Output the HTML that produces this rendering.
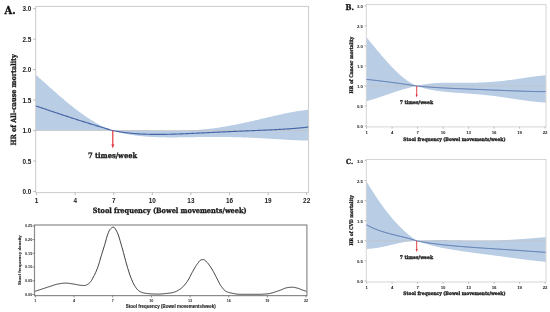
<!DOCTYPE html>
<html><head><meta charset="utf-8"><title>Stool frequency and mortality</title>
<style>html,body{margin:0;padding:0;background:#fff;}svg{display:block;}</style></head>
<body><svg width="550" height="312" viewBox="0 0 550 312">
<rect width="550" height="312" fill="#fff"/>
<polygon points="36.00,74.93 36.91,75.75 37.82,76.57 38.73,77.39 39.64,78.20 40.55,79.02 41.46,79.84 42.37,80.66 43.29,81.48 44.20,82.30 45.11,83.12 46.02,83.93 46.93,84.75 47.84,85.56 48.75,86.38 49.66,87.19 50.57,88.00 51.48,88.81 52.39,89.62 53.30,90.42 54.21,91.23 55.12,92.03 56.04,92.82 56.95,93.62 57.86,94.41 58.77,95.20 59.68,95.99 60.59,96.77 61.50,97.55 62.41,98.33 63.32,99.10 64.23,99.87 65.14,100.63 66.05,101.39 66.96,102.14 67.87,102.89 68.79,103.64 69.70,104.38 70.61,105.11 71.52,105.84 72.43,106.57 73.34,107.29 74.25,108.00 75.16,108.71 76.07,109.41 76.98,110.10 77.89,110.79 78.80,111.47 79.71,112.14 80.62,112.81 81.54,113.47 82.45,114.12 83.36,114.77 84.27,115.40 85.18,116.03 86.09,116.66 87.00,117.27 87.91,117.88 88.82,118.47 89.73,119.06 90.64,119.64 91.55,120.21 92.46,120.77 93.37,121.32 94.28,121.87 95.20,122.40 96.11,122.92 97.02,123.43 97.93,123.94 98.84,124.43 99.75,124.91 100.66,125.38 101.57,125.84 102.48,126.29 103.39,126.73 104.30,127.16 105.21,127.58 106.12,127.98 107.03,128.37 107.95,128.75 108.86,129.12 109.77,129.48 110.68,129.82 111.59,130.15 112.50,130.47 112.73,130.55 113.41,130.52 114.32,130.47 115.23,130.43 116.14,130.40 117.05,130.36 117.96,130.34 118.87,130.31 119.78,130.29 120.70,130.27 121.61,130.26 122.52,130.24 123.43,130.23 124.34,130.23 125.25,130.22 126.16,130.22 127.07,130.22 127.98,130.22 128.89,130.23 129.80,130.23 130.71,130.24 131.62,130.25 132.53,130.26 133.45,130.27 134.36,130.29 135.27,130.30 136.18,130.32 137.09,130.34 138.00,130.36 138.91,130.38 139.82,130.40 140.73,130.42 141.64,130.44 142.55,130.47 143.46,130.49 144.37,130.51 145.28,130.54 146.19,130.56 147.11,130.58 148.02,130.61 148.93,130.63 149.84,130.65 150.75,130.68 151.66,130.70 152.57,130.72 153.48,130.74 154.39,130.77 155.30,130.79 156.21,130.81 157.12,130.82 158.03,130.84 158.94,130.86 159.86,130.88 160.77,130.89 161.68,130.91 162.59,130.92 163.50,130.93 164.41,130.94 165.32,130.95 166.23,130.95 167.14,130.96 168.05,130.96 168.96,130.97 169.87,130.97 170.78,130.97 171.69,130.96 172.61,130.96 173.52,130.95 174.43,130.94 175.34,130.93 176.25,130.92 177.16,130.91 178.07,130.89 178.98,130.87 179.89,130.85 180.80,130.83 181.71,130.80 182.62,130.77 183.53,130.74 184.44,130.71 185.36,130.67 186.27,130.64 187.18,130.59 188.09,130.55 189.00,130.51 189.91,130.46 190.82,130.41 191.73,130.36 192.64,130.30 193.55,130.24 194.46,130.18 195.37,130.12 196.28,130.05 197.19,129.98 198.11,129.91 199.02,129.84 199.93,129.76 200.84,129.68 201.75,129.60 202.66,129.51 203.57,129.42 204.48,129.33 205.39,129.24 206.30,129.14 207.21,129.04 208.12,128.94 209.03,128.83 209.94,128.73 210.85,128.62 211.77,128.50 212.68,128.39 213.59,128.27 214.50,128.15 215.41,128.02 216.32,127.90 217.23,127.77 218.14,127.63 219.05,127.50 219.96,127.36 220.87,127.22 221.78,127.08 222.69,126.93 223.60,126.79 224.52,126.64 225.43,126.48 226.34,126.33 227.25,126.17 228.16,126.01 229.07,125.85 229.98,125.68 230.89,125.52 231.80,125.35 232.71,125.18 233.62,125.00 234.53,124.83 235.44,124.65 236.35,124.47 237.27,124.29 238.18,124.10 239.09,123.92 240.00,123.73 240.91,123.54 241.82,123.35 242.73,123.15 243.64,122.96 244.55,122.76 245.46,122.56 246.37,122.37 247.28,122.16 248.19,121.96 249.10,121.76 250.02,121.55 250.93,121.35 251.84,121.14 252.75,120.93 253.66,120.72 254.57,120.51 255.48,120.30 256.39,120.09 257.30,119.88 258.21,119.67 259.12,119.45 260.03,119.24 260.94,119.02 261.85,118.81 262.76,118.59 263.68,118.38 264.59,118.16 265.50,117.95 266.41,117.73 267.32,117.52 268.23,117.31 269.14,117.09 270.05,116.88 270.96,116.67 271.87,116.45 272.78,116.24 273.69,116.03 274.60,115.82 275.51,115.61 276.43,115.41 277.34,115.20 278.25,114.99 279.16,114.79 280.07,114.59 280.98,114.39 281.89,114.19 282.80,114.00 283.71,113.80 284.62,113.61 285.53,113.42 286.44,113.23 287.35,113.05 288.26,112.86 289.18,112.69 290.09,112.51 291.00,112.33 291.91,112.16 292.82,112.00 293.73,111.83 294.64,111.67 295.55,111.52 296.46,111.36 297.37,111.21 298.28,111.07 299.19,110.93 300.10,110.79 301.01,110.66 301.93,110.53 302.84,110.41 303.75,110.29 304.66,110.18 305.57,110.07 306.48,109.97 307.39,109.87 308.30,109.78 308.30,140.63 307.39,140.62 306.48,140.60 305.57,140.58 304.66,140.55 303.75,140.53 302.84,140.50 301.93,140.47 301.01,140.44 300.10,140.40 299.19,140.37 298.28,140.33 297.37,140.29 296.46,140.25 295.55,140.21 294.64,140.17 293.73,140.13 292.82,140.08 291.91,140.03 291.00,139.99 290.09,139.94 289.18,139.89 288.26,139.84 287.35,139.79 286.44,139.74 285.53,139.69 284.62,139.63 283.71,139.58 282.80,139.53 281.89,139.47 280.98,139.42 280.07,139.36 279.16,139.31 278.25,139.25 277.34,139.20 276.43,139.14 275.51,139.09 274.60,139.03 273.69,138.98 272.78,138.92 271.87,138.87 270.96,138.81 270.05,138.76 269.14,138.70 268.23,138.65 267.32,138.60 266.41,138.54 265.50,138.49 264.59,138.44 263.68,138.39 262.76,138.34 261.85,138.29 260.94,138.24 260.03,138.19 259.12,138.14 258.21,138.09 257.30,138.04 256.39,138.00 255.48,137.95 254.57,137.91 253.66,137.86 252.75,137.82 251.84,137.78 250.93,137.73 250.02,137.69 249.10,137.66 248.19,137.62 247.28,137.58 246.37,137.54 245.46,137.51 244.55,137.47 243.64,137.44 242.73,137.41 241.82,137.38 240.91,137.35 240.00,137.32 239.09,137.29 238.18,137.26 237.27,137.24 236.35,137.21 235.44,137.19 234.53,137.17 233.62,137.15 232.71,137.13 231.80,137.11 230.89,137.09 229.98,137.07 229.07,137.06 228.16,137.04 227.25,137.03 226.34,137.02 225.43,137.01 224.52,137.00 223.60,136.99 222.69,136.98 221.78,136.97 220.87,136.97 219.96,136.96 219.05,136.96 218.14,136.96 217.23,136.95 216.32,136.95 215.41,136.95 214.50,136.95 213.59,136.96 212.68,136.96 211.77,136.96 210.85,136.97 209.94,136.97 209.03,136.98 208.12,136.98 207.21,136.99 206.30,137.00 205.39,137.01 204.48,137.02 203.57,137.03 202.66,137.04 201.75,137.05 200.84,137.06 199.93,137.07 199.02,137.09 198.11,137.10 197.19,137.11 196.28,137.12 195.37,137.14 194.46,137.15 193.55,137.17 192.64,137.18 191.73,137.19 190.82,137.21 189.91,137.22 189.00,137.23 188.09,137.25 187.18,137.26 186.27,137.27 185.36,137.29 184.44,137.30 183.53,137.31 182.62,137.32 181.71,137.33 180.80,137.34 179.89,137.35 178.98,137.36 178.07,137.37 177.16,137.38 176.25,137.39 175.34,137.39 174.43,137.39 173.52,137.40 172.61,137.40 171.69,137.40 170.78,137.40 169.87,137.40 168.96,137.39 168.05,137.39 167.14,137.38 166.23,137.37 165.32,137.36 164.41,137.35 163.50,137.34 162.59,137.32 161.68,137.30 160.77,137.28 159.86,137.26 158.94,137.24 158.03,137.21 157.12,137.18 156.21,137.15 155.30,137.11 154.39,137.07 153.48,137.03 152.57,136.99 151.66,136.94 150.75,136.89 149.84,136.84 148.93,136.78 148.02,136.72 147.11,136.65 146.19,136.59 145.28,136.52 144.37,136.44 143.46,136.36 142.55,136.28 141.64,136.19 140.73,136.10 139.82,136.00 138.91,135.90 138.00,135.79 137.09,135.68 136.18,135.57 135.27,135.45 134.36,135.32 133.45,135.19 132.53,135.06 131.62,134.92 130.71,134.77 129.80,134.62 128.89,134.46 127.98,134.29 127.07,134.12 126.16,133.95 125.25,133.77 124.34,133.58 123.43,133.38 122.52,133.18 121.61,132.97 120.70,132.75 119.78,132.53 118.87,132.30 117.96,132.06 117.05,131.82 116.14,131.57 115.23,131.31 114.32,131.04 113.41,130.76 112.73,130.55 112.50,130.55 111.59,130.54 110.68,130.52 109.77,130.51 108.86,130.50 107.95,130.49 107.03,130.48 106.12,130.48 105.21,130.47 104.30,130.46 103.39,130.45 102.48,130.44 101.57,130.43 100.66,130.43 99.75,130.42 98.84,130.41 97.93,130.41 97.02,130.40 96.11,130.39 95.20,130.39 94.28,130.38 93.37,130.38 92.46,130.37 91.55,130.37 90.64,130.36 89.73,130.36 88.82,130.35 87.91,130.35 87.00,130.34 86.09,130.34 85.18,130.34 84.27,130.33 83.36,130.33 82.45,130.33 81.54,130.32 80.62,130.32 79.71,130.32 78.80,130.32 77.89,130.31 76.98,130.31 76.07,130.31 75.16,130.31 74.25,130.30 73.34,130.30 72.43,130.30 71.52,130.30 70.61,130.30 69.70,130.29 68.79,130.29 67.87,130.29 66.96,130.29 66.05,130.29 65.14,130.28 64.23,130.28 63.32,130.28 62.41,130.28 61.50,130.28 60.59,130.27 59.68,130.27 58.77,130.27 57.86,130.27 56.95,130.27 56.04,130.26 55.12,130.26 54.21,130.26 53.30,130.26 52.39,130.25 51.48,130.25 50.57,130.25 49.66,130.25 48.75,130.24 47.84,130.24 46.93,130.24 46.02,130.23 45.11,130.23 44.20,130.22 43.29,130.22 42.37,130.22 41.46,130.21 40.55,130.21 39.64,130.20 38.73,130.20 37.82,130.19 36.91,130.19 36.00,130.18" fill="#b9cde5"/>
<line x1="35.7" y1="130.55" x2="308.6" y2="130.55" stroke="#c4c4c4" stroke-width="1.0" opacity="0.8"/>
<rect x="35.7" y="6.4" width="272.90000000000003" height="186.2" fill="none" stroke="#cbcbcb" stroke-width="1.0"/>
<polyline points="36.00,105.96 36.91,106.27 37.82,106.58 38.73,106.90 39.64,107.21 40.55,107.52 41.46,107.84 42.37,108.15 43.29,108.46 44.20,108.77 45.11,109.08 46.02,109.39 46.93,109.70 47.84,110.01 48.75,110.32 49.66,110.62 50.57,110.93 51.48,111.24 52.39,111.54 53.30,111.85 54.21,112.16 55.12,112.46 56.04,112.76 56.95,113.07 57.86,113.37 58.77,113.67 59.68,113.98 60.59,114.28 61.50,114.58 62.41,114.88 63.32,115.18 64.23,115.48 65.14,115.78 66.05,116.08 66.96,116.37 67.87,116.67 68.79,116.97 69.70,117.26 70.61,117.56 71.52,117.85 72.43,118.15 73.34,118.44 74.25,118.73 75.16,119.03 76.07,119.32 76.98,119.61 77.89,119.90 78.80,120.19 79.71,120.48 80.62,120.77 81.54,121.06 82.45,121.35 83.36,121.63 84.27,121.92 85.18,122.21 86.09,122.49 87.00,122.78 87.91,123.06 88.82,123.34 89.73,123.63 90.64,123.91 91.55,124.19 92.46,124.47 93.37,124.75 94.28,125.03 95.20,125.31 96.11,125.59 97.02,125.87 97.93,126.14 98.84,126.42 99.75,126.69 100.66,126.97 101.57,127.24 102.48,127.52 103.39,127.79 104.30,128.06 105.21,128.33 106.12,128.61 107.03,128.88 107.95,129.14 108.86,129.41 109.77,129.68 110.68,129.95 111.59,130.22 112.50,130.48 112.73,130.55 113.41,130.69 114.32,130.87 115.23,131.04 116.14,131.21 117.05,131.37 117.96,131.53 118.87,131.68 119.78,131.83 120.70,131.97 121.61,132.11 122.52,132.24 123.43,132.37 124.34,132.49 125.25,132.61 126.16,132.72 127.07,132.83 127.98,132.93 128.89,133.03 129.80,133.13 130.71,133.22 131.62,133.30 132.53,133.39 133.45,133.47 134.36,133.54 135.27,133.61 136.18,133.68 137.09,133.75 138.00,133.81 138.91,133.86 139.82,133.92 140.73,133.97 141.64,134.02 142.55,134.06 143.46,134.10 144.37,134.14 145.28,134.17 146.19,134.21 147.11,134.23 148.02,134.26 148.93,134.29 149.84,134.31 150.75,134.32 151.66,134.34 152.57,134.35 153.48,134.37 154.39,134.37 155.30,134.38 156.21,134.39 157.12,134.39 158.03,134.39 158.94,134.39 159.86,134.38 160.77,134.38 161.68,134.37 162.59,134.36 163.50,134.35 164.41,134.34 165.32,134.32 166.23,134.31 167.14,134.29 168.05,134.27 168.96,134.25 169.87,134.23 170.78,134.21 171.69,134.18 172.61,134.16 173.52,134.13 174.43,134.10 175.34,134.07 176.25,134.04 177.16,134.01 178.07,133.98 178.98,133.95 179.89,133.92 180.80,133.88 181.71,133.85 182.62,133.81 183.53,133.77 184.44,133.74 185.36,133.70 186.27,133.66 187.18,133.62 188.09,133.58 189.00,133.54 189.91,133.50 190.82,133.46 191.73,133.42 192.64,133.37 193.55,133.33 194.46,133.29 195.37,133.25 196.28,133.20 197.19,133.16 198.11,133.12 199.02,133.07 199.93,133.03 200.84,132.98 201.75,132.94 202.66,132.90 203.57,132.85 204.48,132.81 205.39,132.76 206.30,132.72 207.21,132.67 208.12,132.63 209.03,132.59 209.94,132.54 210.85,132.50 211.77,132.45 212.68,132.41 213.59,132.36 214.50,132.32 215.41,132.28 216.32,132.23 217.23,132.19 218.14,132.15 219.05,132.10 219.96,132.06 220.87,132.02 221.78,131.98 222.69,131.93 223.60,131.89 224.52,131.85 225.43,131.81 226.34,131.77 227.25,131.73 228.16,131.68 229.07,131.64 229.98,131.60 230.89,131.56 231.80,131.52 232.71,131.48 233.62,131.44 234.53,131.40 235.44,131.36 236.35,131.33 237.27,131.29 238.18,131.25 239.09,131.21 240.00,131.17 240.91,131.13 241.82,131.09 242.73,131.06 243.64,131.02 244.55,130.98 245.46,130.94 246.37,130.91 247.28,130.87 248.19,130.83 249.10,130.79 250.02,130.76 250.93,130.72 251.84,130.68 252.75,130.64 253.66,130.61 254.57,130.57 255.48,130.53 256.39,130.49 257.30,130.46 258.21,130.42 259.12,130.38 260.03,130.34 260.94,130.30 261.85,130.26 262.76,130.23 263.68,130.19 264.59,130.15 265.50,130.11 266.41,130.06 267.32,130.02 268.23,129.98 269.14,129.94 270.05,129.90 270.96,129.85 271.87,129.81 272.78,129.77 273.69,129.72 274.60,129.67 275.51,129.63 276.43,129.58 277.34,129.53 278.25,129.48 279.16,129.43 280.07,129.38 280.98,129.33 281.89,129.28 282.80,129.22 283.71,129.17 284.62,129.11 285.53,129.05 286.44,128.99 287.35,128.93 288.26,128.87 289.18,128.81 290.09,128.74 291.00,128.68 291.91,128.61 292.82,128.54 293.73,128.47 294.64,128.39 295.55,128.32 296.46,128.24 297.37,128.16 298.28,128.08 299.19,128.00 300.10,127.92 301.01,127.83 301.93,127.74 302.84,127.65 303.75,127.56 304.66,127.46 305.57,127.36 306.48,127.26 307.39,127.16 308.30,127.05" fill="none" stroke="#4766a6" stroke-width="1.15"/>
<line x1="112.80" y1="130.55" x2="112.80" y2="145.10" stroke="#e0303a" stroke-width="1.15"/>
<polygon points="111.30,144.60 114.30,144.60 112.80,148.20" fill="#e0303a"/>
<line x1="33.20" y1="191.50" x2="35.7" y2="191.50" stroke="#aaa" stroke-width="0.8"/>
<text x="31.30" y="194.15" text-anchor="end" font-family="'Liberation Sans Narrow','Liberation Sans',sans-serif" font-weight="bold" font-size="6.4" fill="#1a1a1a">0.0</text>
<line x1="33.20" y1="161.03" x2="35.7" y2="161.03" stroke="#aaa" stroke-width="0.8"/>
<text x="31.30" y="163.68" text-anchor="end" font-family="'Liberation Sans Narrow','Liberation Sans',sans-serif" font-weight="bold" font-size="6.4" fill="#1a1a1a">0.5</text>
<line x1="33.20" y1="130.55" x2="35.7" y2="130.55" stroke="#aaa" stroke-width="0.8"/>
<text x="31.30" y="133.20" text-anchor="end" font-family="'Liberation Sans Narrow','Liberation Sans',sans-serif" font-weight="bold" font-size="6.4" fill="#1a1a1a">1.0</text>
<line x1="33.20" y1="100.07" x2="35.7" y2="100.07" stroke="#aaa" stroke-width="0.8"/>
<text x="31.30" y="102.73" text-anchor="end" font-family="'Liberation Sans Narrow','Liberation Sans',sans-serif" font-weight="bold" font-size="6.4" fill="#1a1a1a">1.5</text>
<line x1="33.20" y1="69.60" x2="35.7" y2="69.60" stroke="#aaa" stroke-width="0.8"/>
<text x="31.30" y="72.25" text-anchor="end" font-family="'Liberation Sans Narrow','Liberation Sans',sans-serif" font-weight="bold" font-size="6.4" fill="#1a1a1a">2.0</text>
<line x1="33.20" y1="39.12" x2="35.7" y2="39.12" stroke="#aaa" stroke-width="0.8"/>
<text x="31.30" y="41.78" text-anchor="end" font-family="'Liberation Sans Narrow','Liberation Sans',sans-serif" font-weight="bold" font-size="6.4" fill="#1a1a1a">2.5</text>
<line x1="33.20" y1="8.65" x2="35.7" y2="8.65" stroke="#aaa" stroke-width="0.8"/>
<text x="31.30" y="11.30" text-anchor="end" font-family="'Liberation Sans Narrow','Liberation Sans',sans-serif" font-weight="bold" font-size="6.4" fill="#1a1a1a">3.0</text>
<line x1="36.60" y1="192.6" x2="36.60" y2="195.10" stroke="#aaa" stroke-width="0.8"/>
<text x="36.60" y="202.60" text-anchor="middle" font-family="'Liberation Sans Narrow','Liberation Sans',sans-serif" font-weight="bold" font-size="6.4" fill="#1a1a1a">1</text>
<line x1="75.18" y1="192.6" x2="75.18" y2="195.10" stroke="#aaa" stroke-width="0.8"/>
<text x="75.18" y="202.60" text-anchor="middle" font-family="'Liberation Sans Narrow','Liberation Sans',sans-serif" font-weight="bold" font-size="6.4" fill="#1a1a1a">4</text>
<line x1="113.76" y1="192.6" x2="113.76" y2="195.10" stroke="#aaa" stroke-width="0.8"/>
<text x="113.76" y="202.60" text-anchor="middle" font-family="'Liberation Sans Narrow','Liberation Sans',sans-serif" font-weight="bold" font-size="6.4" fill="#1a1a1a">7</text>
<line x1="152.34" y1="192.6" x2="152.34" y2="195.10" stroke="#aaa" stroke-width="0.8"/>
<text x="152.34" y="202.60" text-anchor="middle" font-family="'Liberation Sans Narrow','Liberation Sans',sans-serif" font-weight="bold" font-size="6.4" fill="#1a1a1a">10</text>
<line x1="190.92" y1="192.6" x2="190.92" y2="195.10" stroke="#aaa" stroke-width="0.8"/>
<text x="190.92" y="202.60" text-anchor="middle" font-family="'Liberation Sans Narrow','Liberation Sans',sans-serif" font-weight="bold" font-size="6.4" fill="#1a1a1a">13</text>
<line x1="229.50" y1="192.6" x2="229.50" y2="195.10" stroke="#aaa" stroke-width="0.8"/>
<text x="229.50" y="202.60" text-anchor="middle" font-family="'Liberation Sans Narrow','Liberation Sans',sans-serif" font-weight="bold" font-size="6.4" fill="#1a1a1a">16</text>
<line x1="268.08" y1="192.6" x2="268.08" y2="195.10" stroke="#aaa" stroke-width="0.8"/>
<text x="268.08" y="202.60" text-anchor="middle" font-family="'Liberation Sans Narrow','Liberation Sans',sans-serif" font-weight="bold" font-size="6.4" fill="#1a1a1a">19</text>
<line x1="306.66" y1="192.6" x2="306.66" y2="195.10" stroke="#aaa" stroke-width="0.8"/>
<text x="306.66" y="202.60" text-anchor="middle" font-family="'Liberation Sans Narrow','Liberation Sans',sans-serif" font-weight="bold" font-size="6.4" fill="#1a1a1a">22</text>
<text x="169.70" y="212.60" text-anchor="middle" font-family="'DejaVu Serif Condensed','DejaVu Serif','Liberation Serif',serif" font-weight="bold" font-size="7.3" fill="#1a1a1a" stroke="#1a1a1a" stroke-width="0.3">Stool frequency (Bowel movements/week)</text>
<text transform="translate(15.50,99.90) rotate(-90)" x="0" y="0" text-anchor="middle" font-family="'DejaVu Serif Condensed','DejaVu Serif','Liberation Serif',serif" font-weight="bold" font-size="7.15" fill="#1a1a1a" stroke="#1a1a1a" stroke-width="0.3">HR of All-cause mortality</text>
<text x="112.50" y="158.20" text-anchor="middle" font-family="'DejaVu Serif Condensed','DejaVu Serif','Liberation Serif',serif" font-weight="bold" font-size="7.45" fill="#1a1a1a" stroke="#1a1a1a" stroke-width="0.3">7 times/week</text>
<text x="4.5" y="13.8" font-family="'DejaVu Serif Condensed','DejaVu Serif','Liberation Serif',serif" font-weight="bold" font-size="11" fill="#111" stroke="#111" stroke-width="0.3">A.</text>
<polygon points="366.55,37.42 367.15,38.14 367.75,38.86 368.35,39.58 368.95,40.30 369.55,41.03 370.14,41.75 370.74,42.47 371.34,43.20 371.94,43.92 372.54,44.65 373.14,45.37 373.74,46.09 374.34,46.82 374.94,47.54 375.54,48.26 376.14,48.98 376.74,49.70 377.33,50.42 377.93,51.13 378.53,51.85 379.13,52.56 379.73,53.27 380.33,53.98 380.93,54.68 381.53,55.39 382.13,56.09 382.73,56.78 383.33,57.48 383.93,58.17 384.52,58.85 385.12,59.54 385.72,60.22 386.32,60.89 386.92,61.56 387.52,62.23 388.12,62.89 388.72,63.55 389.32,64.20 389.92,64.85 390.52,65.49 391.12,66.13 391.71,66.76 392.31,67.39 392.91,68.00 393.51,68.62 394.11,69.23 394.71,69.83 395.31,70.42 395.91,71.01 396.51,71.59 397.11,72.16 397.71,72.73 398.31,73.29 398.90,73.84 399.50,74.38 400.10,74.92 400.70,75.44 401.30,75.96 401.90,76.47 402.50,76.97 403.10,77.47 403.70,77.95 404.30,78.42 404.90,78.89 405.50,79.34 406.09,79.79 406.69,80.23 407.29,80.65 407.89,81.07 408.49,81.47 409.09,81.87 409.69,82.25 410.29,82.62 410.89,82.99 411.49,83.34 412.09,83.67 412.69,84.00 413.28,84.32 413.88,84.62 414.48,84.91 415.08,85.19 415.68,85.46 416.28,85.71 416.88,85.95 416.92,85.97 417.48,85.82 418.08,85.67 418.68,85.53 419.28,85.39 419.88,85.25 420.47,85.12 421.07,85.00 421.67,84.88 422.27,84.76 422.87,84.65 423.47,84.54 424.07,84.44 424.67,84.34 425.27,84.24 425.87,84.15 426.47,84.06 427.07,83.98 427.66,83.90 428.26,83.82 428.86,83.75 429.46,83.68 430.06,83.61 430.66,83.55 431.26,83.49 431.86,83.43 432.46,83.37 433.06,83.32 433.66,83.27 434.26,83.23 434.85,83.18 435.45,83.14 436.05,83.10 436.65,83.07 437.25,83.03 437.85,83.00 438.45,82.97 439.05,82.94 439.65,82.92 440.25,82.90 440.85,82.87 441.45,82.85 442.04,82.84 442.64,82.82 443.24,82.80 443.84,82.79 444.44,82.78 445.04,82.77 445.64,82.76 446.24,82.75 446.84,82.74 447.44,82.73 448.04,82.73 448.64,82.72 449.23,82.72 449.83,82.72 450.43,82.72 451.03,82.72 451.63,82.72 452.23,82.72 452.83,82.72 453.43,82.72 454.03,82.72 454.63,82.72 455.23,82.72 455.83,82.73 456.42,82.73 457.02,82.73 457.62,82.73 458.22,82.74 458.82,82.74 459.42,82.74 460.02,82.75 460.62,82.75 461.22,82.75 461.82,82.75 462.42,82.76 463.02,82.76 463.61,82.76 464.21,82.76 464.81,82.76 465.41,82.76 466.01,82.76 466.61,82.76 467.21,82.76 467.81,82.76 468.41,82.76 469.01,82.75 469.61,82.75 470.21,82.75 470.80,82.74 471.40,82.74 472.00,82.73 472.60,82.72 473.20,82.71 473.80,82.70 474.40,82.69 475.00,82.68 475.60,82.67 476.20,82.66 476.80,82.64 477.40,82.63 477.99,82.61 478.59,82.59 479.19,82.57 479.79,82.56 480.39,82.53 480.99,82.51 481.59,82.49 482.19,82.47 482.79,82.44 483.39,82.41 483.99,82.39 484.59,82.36 485.18,82.33 485.78,82.30 486.38,82.26 486.98,82.23 487.58,82.19 488.18,82.16 488.78,82.12 489.38,82.08 489.98,82.04 490.58,82.00 491.18,81.96 491.78,81.91 492.37,81.87 492.97,81.82 493.57,81.77 494.17,81.72 494.77,81.67 495.37,81.62 495.97,81.57 496.57,81.52 497.17,81.46 497.77,81.40 498.37,81.35 498.97,81.29 499.56,81.23 500.16,81.16 500.76,81.10 501.36,81.04 501.96,80.97 502.56,80.91 503.16,80.84 503.76,80.77 504.36,80.70 504.96,80.63 505.56,80.56 506.16,80.49 506.75,80.42 507.35,80.34 507.95,80.27 508.55,80.19 509.15,80.11 509.75,80.03 510.35,79.96 510.95,79.88 511.55,79.80 512.15,79.71 512.75,79.63 513.35,79.55 513.94,79.47 514.54,79.38 515.14,79.30 515.74,79.21 516.34,79.13 516.94,79.04 517.54,78.95 518.14,78.87 518.74,78.78 519.34,78.69 519.94,78.60 520.54,78.51 521.13,78.42 521.73,78.34 522.33,78.25 522.93,78.16 523.53,78.07 524.13,77.98 524.73,77.89 525.33,77.80 525.93,77.71 526.53,77.62 527.13,77.54 527.73,77.45 528.32,77.36 528.92,77.27 529.52,77.19 530.12,77.10 530.72,77.01 531.32,76.93 531.92,76.84 532.52,76.76 533.12,76.68 533.72,76.59 534.32,76.51 534.92,76.43 535.51,76.35 536.11,76.28 536.71,76.20 537.31,76.12 537.91,76.05 538.51,75.98 539.11,75.90 539.71,75.83 540.31,75.77 540.91,75.70 541.51,75.63 542.11,75.57 542.70,75.51 543.30,75.45 543.90,75.39 544.50,75.34 545.10,75.28 545.70,75.23 545.70,102.48 545.10,102.47 544.50,102.44 543.90,102.42 543.30,102.39 542.70,102.36 542.11,102.33 541.51,102.29 540.91,102.25 540.31,102.21 539.71,102.17 539.11,102.12 538.51,102.07 537.91,102.02 537.31,101.97 536.71,101.91 536.11,101.85 535.51,101.79 534.92,101.73 534.32,101.67 533.72,101.60 533.12,101.54 532.52,101.47 531.92,101.40 531.32,101.33 530.72,101.25 530.12,101.18 529.52,101.10 528.92,101.02 528.32,100.95 527.73,100.87 527.13,100.79 526.53,100.70 525.93,100.62 525.33,100.54 524.73,100.45 524.13,100.37 523.53,100.28 522.93,100.19 522.33,100.11 521.73,100.02 521.13,99.93 520.54,99.84 519.94,99.75 519.34,99.66 518.74,99.57 518.14,99.48 517.54,99.39 516.94,99.30 516.34,99.21 515.74,99.12 515.14,99.03 514.54,98.93 513.94,98.84 513.35,98.75 512.75,98.66 512.15,98.57 511.55,98.48 510.95,98.39 510.35,98.30 509.75,98.21 509.15,98.12 508.55,98.03 507.95,97.94 507.35,97.85 506.75,97.76 506.16,97.67 505.56,97.58 504.96,97.50 504.36,97.41 503.76,97.32 503.16,97.24 502.56,97.15 501.96,97.07 501.36,96.99 500.76,96.90 500.16,96.82 499.56,96.74 498.97,96.66 498.37,96.58 497.77,96.50 497.17,96.42 496.57,96.34 495.97,96.26 495.37,96.19 494.77,96.11 494.17,96.04 493.57,95.96 492.97,95.89 492.37,95.82 491.78,95.75 491.18,95.68 490.58,95.61 489.98,95.54 489.38,95.47 488.78,95.40 488.18,95.34 487.58,95.27 486.98,95.21 486.38,95.14 485.78,95.08 485.18,95.02 484.59,94.96 483.99,94.90 483.39,94.84 482.79,94.78 482.19,94.72 481.59,94.66 480.99,94.61 480.39,94.55 479.79,94.50 479.19,94.44 478.59,94.39 477.99,94.34 477.40,94.29 476.80,94.24 476.20,94.19 475.60,94.14 475.00,94.09 474.40,94.04 473.80,93.99 473.20,93.95 472.60,93.90 472.00,93.85 471.40,93.81 470.80,93.76 470.21,93.72 469.61,93.67 469.01,93.63 468.41,93.59 467.81,93.55 467.21,93.50 466.61,93.46 466.01,93.42 465.41,93.38 464.81,93.34 464.21,93.30 463.61,93.25 463.02,93.21 462.42,93.17 461.82,93.13 461.22,93.09 460.62,93.05 460.02,93.01 459.42,92.97 458.82,92.93 458.22,92.88 457.62,92.84 457.02,92.80 456.42,92.76 455.83,92.71 455.23,92.67 454.63,92.63 454.03,92.58 453.43,92.54 452.83,92.49 452.23,92.44 451.63,92.40 451.03,92.35 450.43,92.30 449.83,92.25 449.23,92.20 448.64,92.15 448.04,92.09 447.44,92.04 446.84,91.98 446.24,91.92 445.64,91.87 445.04,91.81 444.44,91.74 443.84,91.68 443.24,91.62 442.64,91.55 442.04,91.48 441.45,91.41 440.85,91.34 440.25,91.27 439.65,91.19 439.05,91.11 438.45,91.03 437.85,90.95 437.25,90.86 436.65,90.77 436.05,90.68 435.45,90.59 434.85,90.50 434.26,90.40 433.66,90.30 433.06,90.19 432.46,90.09 431.86,89.98 431.26,89.86 430.66,89.75 430.06,89.63 429.46,89.50 428.86,89.38 428.26,89.25 427.66,89.11 427.07,88.97 426.47,88.83 425.87,88.69 425.27,88.54 424.67,88.38 424.07,88.22 423.47,88.06 422.87,87.89 422.27,87.72 421.67,87.55 421.07,87.37 420.47,87.18 419.88,86.99 419.28,86.79 418.68,86.59 418.08,86.38 417.48,86.17 416.92,85.97 416.88,85.98 416.28,86.09 415.68,86.21 415.08,86.33 414.48,86.46 413.88,86.59 413.28,86.72 412.69,86.86 412.09,87.00 411.49,87.14 410.89,87.28 410.29,87.43 409.69,87.58 409.09,87.74 408.49,87.89 407.89,88.05 407.29,88.21 406.69,88.38 406.09,88.54 405.50,88.71 404.90,88.88 404.30,89.05 403.70,89.23 403.10,89.41 402.50,89.58 401.90,89.77 401.30,89.95 400.70,90.13 400.10,90.32 399.50,90.51 398.90,90.70 398.31,90.89 397.71,91.08 397.11,91.27 396.51,91.47 395.91,91.66 395.31,91.86 394.71,92.06 394.11,92.26 393.51,92.46 392.91,92.66 392.31,92.86 391.71,93.06 391.12,93.26 390.52,93.47 389.92,93.67 389.32,93.88 388.72,94.08 388.12,94.29 387.52,94.49 386.92,94.70 386.32,94.90 385.72,95.11 385.12,95.31 384.52,95.51 383.93,95.72 383.33,95.92 382.73,96.13 382.13,96.33 381.53,96.53 380.93,96.74 380.33,96.94 379.73,97.14 379.13,97.34 378.53,97.54 377.93,97.73 377.33,97.93 376.74,98.13 376.14,98.32 375.54,98.51 374.94,98.71 374.34,98.90 373.74,99.08 373.14,99.27 372.54,99.46 371.94,99.64 371.34,99.82 370.74,100.00 370.14,100.18 369.55,100.36 368.95,100.53 368.35,100.71 367.75,100.88 367.15,101.04 366.55,101.21" fill="#b9cde5"/>
<line x1="366.25" y1="85.97" x2="546.0" y2="85.97" stroke="#c4c4c4" stroke-width="0.8" opacity="0.8"/>
<rect x="366.25" y="4.7" width="179.75" height="122.2" fill="none" stroke="#cbcbcb" stroke-width="0.8"/>
<polyline points="366.55,79.36 367.15,79.43 367.75,79.49 368.35,79.56 368.95,79.63 369.55,79.70 370.14,79.77 370.74,79.83 371.34,79.90 371.94,79.97 372.54,80.04 373.14,80.11 373.74,80.18 374.34,80.25 374.94,80.32 375.54,80.39 376.14,80.46 376.74,80.54 377.33,80.61 377.93,80.68 378.53,80.75 379.13,80.82 379.73,80.90 380.33,80.97 380.93,81.04 381.53,81.12 382.13,81.19 382.73,81.26 383.33,81.34 383.93,81.41 384.52,81.49 385.12,81.56 385.72,81.64 386.32,81.72 386.92,81.79 387.52,81.87 388.12,81.95 388.72,82.02 389.32,82.10 389.92,82.18 390.52,82.26 391.12,82.33 391.71,82.41 392.31,82.49 392.91,82.57 393.51,82.65 394.11,82.73 394.71,82.81 395.31,82.89 395.91,82.97 396.51,83.05 397.11,83.13 397.71,83.21 398.31,83.29 398.90,83.38 399.50,83.46 400.10,83.54 400.70,83.62 401.30,83.71 401.90,83.79 402.50,83.87 403.10,83.96 403.70,84.04 404.30,84.13 404.90,84.21 405.50,84.30 406.09,84.38 406.69,84.47 407.29,84.55 407.89,84.64 408.49,84.72 409.09,84.81 409.69,84.90 410.29,84.99 410.89,85.07 411.49,85.16 412.09,85.25 412.69,85.34 413.28,85.43 413.88,85.51 414.48,85.60 415.08,85.69 415.68,85.78 416.28,85.87 416.88,85.96 416.92,85.97 417.48,86.03 418.08,86.09 418.68,86.15 419.28,86.21 419.88,86.27 420.47,86.32 421.07,86.38 421.67,86.44 422.27,86.49 422.87,86.54 423.47,86.60 424.07,86.65 424.67,86.70 425.27,86.75 425.87,86.80 426.47,86.85 427.07,86.89 427.66,86.94 428.26,86.99 428.86,87.03 429.46,87.08 430.06,87.12 430.66,87.16 431.26,87.21 431.86,87.25 432.46,87.29 433.06,87.33 433.66,87.37 434.26,87.41 434.85,87.45 435.45,87.49 436.05,87.53 436.65,87.56 437.25,87.60 437.85,87.64 438.45,87.67 439.05,87.71 439.65,87.74 440.25,87.78 440.85,87.81 441.45,87.84 442.04,87.88 442.64,87.91 443.24,87.94 443.84,87.97 444.44,88.00 445.04,88.03 445.64,88.06 446.24,88.09 446.84,88.12 447.44,88.15 448.04,88.18 448.64,88.21 449.23,88.24 449.83,88.27 450.43,88.30 451.03,88.33 451.63,88.35 452.23,88.38 452.83,88.41 453.43,88.43 454.03,88.46 454.63,88.49 455.23,88.51 455.83,88.54 456.42,88.57 457.02,88.59 457.62,88.62 458.22,88.64 458.82,88.67 459.42,88.69 460.02,88.72 460.62,88.74 461.22,88.77 461.82,88.79 462.42,88.82 463.02,88.84 463.61,88.87 464.21,88.89 464.81,88.91 465.41,88.94 466.01,88.96 466.61,88.99 467.21,89.01 467.81,89.03 468.41,89.06 469.01,89.08 469.61,89.11 470.21,89.13 470.80,89.15 471.40,89.18 472.00,89.20 472.60,89.22 473.20,89.25 473.80,89.27 474.40,89.29 475.00,89.32 475.60,89.34 476.20,89.37 476.80,89.39 477.40,89.41 477.99,89.44 478.59,89.46 479.19,89.48 479.79,89.51 480.39,89.53 480.99,89.55 481.59,89.58 482.19,89.60 482.79,89.63 483.39,89.65 483.99,89.67 484.59,89.70 485.18,89.72 485.78,89.75 486.38,89.77 486.98,89.79 487.58,89.82 488.18,89.84 488.78,89.87 489.38,89.89 489.98,89.91 490.58,89.94 491.18,89.96 491.78,89.99 492.37,90.01 492.97,90.03 493.57,90.06 494.17,90.08 494.77,90.11 495.37,90.13 495.97,90.16 496.57,90.18 497.17,90.21 497.77,90.23 498.37,90.25 498.97,90.28 499.56,90.30 500.16,90.33 500.76,90.35 501.36,90.38 501.96,90.40 502.56,90.42 503.16,90.45 503.76,90.47 504.36,90.50 504.96,90.52 505.56,90.54 506.16,90.57 506.75,90.59 507.35,90.62 507.95,90.64 508.55,90.66 509.15,90.69 509.75,90.71 510.35,90.73 510.95,90.76 511.55,90.78 512.15,90.80 512.75,90.83 513.35,90.85 513.94,90.87 514.54,90.89 515.14,90.92 515.74,90.94 516.34,90.96 516.94,90.98 517.54,91.00 518.14,91.03 518.74,91.05 519.34,91.07 519.94,91.09 520.54,91.11 521.13,91.13 521.73,91.15 522.33,91.17 522.93,91.19 523.53,91.21 524.13,91.23 524.73,91.25 525.33,91.26 525.93,91.28 526.53,91.30 527.13,91.32 527.73,91.33 528.32,91.35 528.92,91.37 529.52,91.38 530.12,91.40 530.72,91.41 531.32,91.43 531.92,91.44 532.52,91.46 533.12,91.47 533.72,91.48 534.32,91.49 534.92,91.51 535.51,91.52 536.11,91.53 536.71,91.54 537.31,91.55 537.91,91.56 538.51,91.57 539.11,91.57 539.71,91.58 540.31,91.59 540.91,91.59 541.51,91.60 542.11,91.60 542.70,91.61 543.30,91.61 543.90,91.61 544.50,91.61 545.10,91.62 545.70,91.62" fill="none" stroke="#4766a6" stroke-width="0.9"/>
<line x1="416.70" y1="85.97" x2="416.70" y2="95.10" stroke="#e0303a" stroke-width="0.9"/>
<polygon points="415.60,94.60 417.80,94.60 416.70,97.60" fill="#e0303a"/>
<line x1="364.55" y1="126.00" x2="366.25" y2="126.00" stroke="#aaa" stroke-width="0.8"/>
<text x="363.00" y="127.92" text-anchor="end" font-family="'Liberation Sans',sans-serif" font-weight="bold" font-size="4.35" fill="#1a1a1a">0.0</text>
<line x1="364.55" y1="105.98" x2="366.25" y2="105.98" stroke="#aaa" stroke-width="0.8"/>
<text x="363.00" y="107.90" text-anchor="end" font-family="'Liberation Sans',sans-serif" font-weight="bold" font-size="4.35" fill="#1a1a1a">0.5</text>
<line x1="364.55" y1="85.97" x2="366.25" y2="85.97" stroke="#aaa" stroke-width="0.8"/>
<text x="363.00" y="87.89" text-anchor="end" font-family="'Liberation Sans',sans-serif" font-weight="bold" font-size="4.35" fill="#1a1a1a">1.0</text>
<line x1="364.55" y1="65.95" x2="366.25" y2="65.95" stroke="#aaa" stroke-width="0.8"/>
<text x="363.00" y="67.87" text-anchor="end" font-family="'Liberation Sans',sans-serif" font-weight="bold" font-size="4.35" fill="#1a1a1a">1.5</text>
<line x1="364.55" y1="45.94" x2="366.25" y2="45.94" stroke="#aaa" stroke-width="0.8"/>
<text x="363.00" y="47.86" text-anchor="end" font-family="'Liberation Sans',sans-serif" font-weight="bold" font-size="4.35" fill="#1a1a1a">2.0</text>
<line x1="364.55" y1="25.92" x2="366.25" y2="25.92" stroke="#aaa" stroke-width="0.8"/>
<text x="363.00" y="27.84" text-anchor="end" font-family="'Liberation Sans',sans-serif" font-weight="bold" font-size="4.35" fill="#1a1a1a">2.5</text>
<line x1="364.55" y1="5.91" x2="366.25" y2="5.91" stroke="#aaa" stroke-width="0.8"/>
<text x="363.00" y="7.83" text-anchor="end" font-family="'Liberation Sans',sans-serif" font-weight="bold" font-size="4.35" fill="#1a1a1a">3.0</text>
<line x1="366.60" y1="126.9" x2="366.60" y2="128.60" stroke="#aaa" stroke-width="0.8"/>
<text x="366.60" y="133.50" text-anchor="middle" font-family="'Liberation Sans',sans-serif" font-weight="bold" font-size="4.35" fill="#1a1a1a">1</text>
<line x1="392.10" y1="126.9" x2="392.10" y2="128.60" stroke="#aaa" stroke-width="0.8"/>
<text x="392.10" y="133.50" text-anchor="middle" font-family="'Liberation Sans',sans-serif" font-weight="bold" font-size="4.35" fill="#1a1a1a">4</text>
<line x1="417.60" y1="126.9" x2="417.60" y2="128.60" stroke="#aaa" stroke-width="0.8"/>
<text x="417.60" y="133.50" text-anchor="middle" font-family="'Liberation Sans',sans-serif" font-weight="bold" font-size="4.35" fill="#1a1a1a">7</text>
<line x1="443.10" y1="126.9" x2="443.10" y2="128.60" stroke="#aaa" stroke-width="0.8"/>
<text x="443.10" y="133.50" text-anchor="middle" font-family="'Liberation Sans',sans-serif" font-weight="bold" font-size="4.35" fill="#1a1a1a">10</text>
<line x1="468.60" y1="126.9" x2="468.60" y2="128.60" stroke="#aaa" stroke-width="0.8"/>
<text x="468.60" y="133.50" text-anchor="middle" font-family="'Liberation Sans',sans-serif" font-weight="bold" font-size="4.35" fill="#1a1a1a">13</text>
<line x1="494.10" y1="126.9" x2="494.10" y2="128.60" stroke="#aaa" stroke-width="0.8"/>
<text x="494.10" y="133.50" text-anchor="middle" font-family="'Liberation Sans',sans-serif" font-weight="bold" font-size="4.35" fill="#1a1a1a">16</text>
<line x1="519.60" y1="126.9" x2="519.60" y2="128.60" stroke="#aaa" stroke-width="0.8"/>
<text x="519.60" y="133.50" text-anchor="middle" font-family="'Liberation Sans',sans-serif" font-weight="bold" font-size="4.35" fill="#1a1a1a">19</text>
<line x1="545.10" y1="126.9" x2="545.10" y2="128.60" stroke="#aaa" stroke-width="0.8"/>
<text x="545.10" y="133.50" text-anchor="middle" font-family="'Liberation Sans',sans-serif" font-weight="bold" font-size="4.35" fill="#1a1a1a">22</text>
<text x="454.40" y="140.50" text-anchor="middle" font-family="'DejaVu Serif Condensed','DejaVu Serif','Liberation Serif',serif" font-weight="bold" font-size="4.85" fill="#1a1a1a" stroke="#1a1a1a" stroke-width="0.3">Stool frequency (Bowel movements/week)</text>
<text transform="translate(353.20,65.00) rotate(-90)" x="0" y="0" text-anchor="middle" font-family="'DejaVu Serif Condensed','DejaVu Serif','Liberation Serif',serif" font-weight="bold" font-size="4.85" fill="#1a1a1a" stroke="#1a1a1a" stroke-width="0.3">HR of Cancer mortality</text>
<text x="416.40" y="103.80" text-anchor="middle" font-family="'DejaVu Serif Condensed','DejaVu Serif','Liberation Serif',serif" font-weight="bold" font-size="5.05" fill="#1a1a1a" stroke="#1a1a1a" stroke-width="0.3">7 times/week</text>
<text x="345.4" y="9.8" font-family="'DejaVu Serif Condensed','DejaVu Serif','Liberation Serif',serif" font-weight="bold" font-size="7.9" fill="#111" stroke="#111" stroke-width="0.3">B.</text>
<polygon points="366.55,181.37 367.15,182.39 367.75,183.41 368.35,184.41 368.95,185.41 369.55,186.40 370.14,187.38 370.74,188.35 371.34,189.32 371.94,190.28 372.54,191.23 373.14,192.18 373.74,193.12 374.34,194.05 374.94,194.97 375.54,195.88 376.14,196.79 376.74,197.69 377.33,198.58 377.93,199.47 378.53,200.35 379.13,201.22 379.73,202.08 380.33,202.93 380.93,203.78 381.53,204.62 382.13,205.45 382.73,206.28 383.33,207.10 383.93,207.91 384.52,208.71 385.12,209.50 385.72,210.29 386.32,211.07 386.92,211.84 387.52,212.61 388.12,213.36 388.72,214.11 389.32,214.86 389.92,215.59 390.52,216.32 391.12,217.04 391.71,217.75 392.31,218.45 392.91,219.15 393.51,219.84 394.11,220.52 394.71,221.20 395.31,221.86 395.91,222.52 396.51,223.18 397.11,223.82 397.71,224.46 398.31,225.09 398.90,225.71 399.50,226.32 400.10,226.93 400.70,227.53 401.30,228.12 401.90,228.70 402.50,229.28 403.10,229.85 403.70,230.41 404.30,230.96 404.90,231.51 405.50,232.05 406.09,232.58 406.69,233.10 407.29,233.62 407.89,234.13 408.49,234.63 409.09,235.12 409.69,235.61 410.29,236.09 410.89,236.56 411.49,237.02 412.09,237.47 412.69,237.92 413.28,238.36 413.88,238.79 414.48,239.22 415.08,239.64 415.68,240.05 416.28,240.45 416.88,240.84 416.92,240.87 417.48,240.82 418.08,240.78 418.68,240.73 419.28,240.69 419.88,240.64 420.47,240.60 421.07,240.56 421.67,240.53 422.27,240.49 422.87,240.46 423.47,240.43 424.07,240.40 424.67,240.37 425.27,240.34 425.87,240.32 426.47,240.29 427.07,240.27 427.66,240.25 428.26,240.23 428.86,240.21 429.46,240.19 430.06,240.18 430.66,240.16 431.26,240.15 431.86,240.13 432.46,240.12 433.06,240.11 433.66,240.10 434.26,240.10 434.85,240.09 435.45,240.08 436.05,240.08 436.65,240.07 437.25,240.07 437.85,240.07 438.45,240.06 439.05,240.06 439.65,240.06 440.25,240.06 440.85,240.06 441.45,240.07 442.04,240.07 442.64,240.07 443.24,240.08 443.84,240.08 444.44,240.08 445.04,240.09 445.64,240.10 446.24,240.10 446.84,240.11 447.44,240.12 448.04,240.12 448.64,240.13 449.23,240.14 449.83,240.15 450.43,240.16 451.03,240.17 451.63,240.18 452.23,240.19 452.83,240.20 453.43,240.21 454.03,240.22 454.63,240.23 455.23,240.24 455.83,240.25 456.42,240.26 457.02,240.27 457.62,240.28 458.22,240.29 458.82,240.30 459.42,240.31 460.02,240.32 460.62,240.33 461.22,240.34 461.82,240.35 462.42,240.36 463.02,240.37 463.61,240.38 464.21,240.39 464.81,240.40 465.41,240.41 466.01,240.42 466.61,240.43 467.21,240.44 467.81,240.45 468.41,240.46 469.01,240.46 469.61,240.47 470.21,240.48 470.80,240.49 471.40,240.49 472.00,240.50 472.60,240.51 473.20,240.51 473.80,240.52 474.40,240.52 475.00,240.52 475.60,240.53 476.20,240.53 476.80,240.53 477.40,240.54 477.99,240.54 478.59,240.54 479.19,240.54 479.79,240.54 480.39,240.54 480.99,240.54 481.59,240.54 482.19,240.54 482.79,240.54 483.39,240.53 483.99,240.53 484.59,240.53 485.18,240.52 485.78,240.52 486.38,240.51 486.98,240.50 487.58,240.50 488.18,240.49 488.78,240.48 489.38,240.47 489.98,240.46 490.58,240.45 491.18,240.44 491.78,240.43 492.37,240.42 492.97,240.41 493.57,240.39 494.17,240.38 494.77,240.37 495.37,240.35 495.97,240.34 496.57,240.32 497.17,240.30 497.77,240.28 498.37,240.27 498.97,240.25 499.56,240.23 500.16,240.21 500.76,240.18 501.36,240.16 501.96,240.14 502.56,240.12 503.16,240.09 503.76,240.07 504.36,240.04 504.96,240.02 505.56,239.99 506.16,239.96 506.75,239.94 507.35,239.91 507.95,239.88 508.55,239.85 509.15,239.82 509.75,239.79 510.35,239.76 510.95,239.73 511.55,239.69 512.15,239.66 512.75,239.63 513.35,239.59 513.94,239.56 514.54,239.52 515.14,239.49 515.74,239.45 516.34,239.41 516.94,239.37 517.54,239.34 518.14,239.30 518.74,239.26 519.34,239.22 519.94,239.18 520.54,239.14 521.13,239.09 521.73,239.05 522.33,239.01 522.93,238.97 523.53,238.92 524.13,238.88 524.73,238.84 525.33,238.79 525.93,238.75 526.53,238.70 527.13,238.66 527.73,238.61 528.32,238.57 528.92,238.52 529.52,238.47 530.12,238.43 530.72,238.38 531.32,238.33 531.92,238.28 532.52,238.24 533.12,238.19 533.72,238.14 534.32,238.09 534.92,238.04 535.51,237.99 536.11,237.94 536.71,237.89 537.31,237.85 537.91,237.80 538.51,237.75 539.11,237.70 539.71,237.65 540.31,237.60 540.91,237.55 541.51,237.50 542.11,237.45 542.70,237.40 543.30,237.35 543.90,237.30 544.50,237.25 545.10,237.21 545.70,237.16 545.70,261.82 545.10,261.77 544.50,261.72 543.90,261.66 543.30,261.61 542.70,261.56 542.11,261.50 541.51,261.44 540.91,261.39 540.31,261.33 539.71,261.27 539.11,261.21 538.51,261.14 537.91,261.08 537.31,261.02 536.71,260.95 536.11,260.89 535.51,260.82 534.92,260.75 534.32,260.69 533.72,260.62 533.12,260.55 532.52,260.48 531.92,260.41 531.32,260.34 530.72,260.27 530.12,260.20 529.52,260.12 528.92,260.05 528.32,259.98 527.73,259.90 527.13,259.83 526.53,259.76 525.93,259.68 525.33,259.60 524.73,259.53 524.13,259.45 523.53,259.38 522.93,259.30 522.33,259.22 521.73,259.14 521.13,259.07 520.54,258.99 519.94,258.91 519.34,258.83 518.74,258.75 518.14,258.67 517.54,258.59 516.94,258.52 516.34,258.44 515.74,258.36 515.14,258.28 514.54,258.20 513.94,258.12 513.35,258.04 512.75,257.96 512.15,257.88 511.55,257.80 510.95,257.72 510.35,257.64 509.75,257.56 509.15,257.48 508.55,257.40 507.95,257.32 507.35,257.24 506.75,257.16 506.16,257.07 505.56,256.99 504.96,256.91 504.36,256.83 503.76,256.75 503.16,256.67 502.56,256.59 501.96,256.51 501.36,256.43 500.76,256.35 500.16,256.27 499.56,256.19 498.97,256.12 498.37,256.04 497.77,255.96 497.17,255.88 496.57,255.80 495.97,255.72 495.37,255.64 494.77,255.56 494.17,255.48 493.57,255.40 492.97,255.32 492.37,255.24 491.78,255.17 491.18,255.09 490.58,255.01 489.98,254.93 489.38,254.85 488.78,254.77 488.18,254.69 487.58,254.62 486.98,254.54 486.38,254.46 485.78,254.38 485.18,254.30 484.59,254.22 483.99,254.15 483.39,254.07 482.79,253.99 482.19,253.91 481.59,253.83 480.99,253.75 480.39,253.68 479.79,253.60 479.19,253.52 478.59,253.44 477.99,253.36 477.40,253.28 476.80,253.20 476.20,253.12 475.60,253.04 475.00,252.97 474.40,252.89 473.80,252.81 473.20,252.73 472.60,252.65 472.00,252.56 471.40,252.48 470.80,252.40 470.21,252.32 469.61,252.24 469.01,252.16 468.41,252.08 467.81,251.99 467.21,251.91 466.61,251.83 466.01,251.74 465.41,251.66 464.81,251.57 464.21,251.49 463.61,251.40 463.02,251.32 462.42,251.23 461.82,251.14 461.22,251.06 460.62,250.97 460.02,250.88 459.42,250.79 458.82,250.70 458.22,250.61 457.62,250.52 457.02,250.42 456.42,250.33 455.83,250.24 455.23,250.14 454.63,250.05 454.03,249.95 453.43,249.85 452.83,249.75 452.23,249.65 451.63,249.55 451.03,249.45 450.43,249.35 449.83,249.25 449.23,249.14 448.64,249.04 448.04,248.93 447.44,248.82 446.84,248.71 446.24,248.60 445.64,248.49 445.04,248.38 444.44,248.26 443.84,248.14 443.24,248.03 442.64,247.91 442.04,247.79 441.45,247.67 440.85,247.54 440.25,247.42 439.65,247.29 439.05,247.16 438.45,247.03 437.85,246.90 437.25,246.77 436.65,246.63 436.05,246.49 435.45,246.35 434.85,246.21 434.26,246.07 433.66,245.92 433.06,245.78 432.46,245.63 431.86,245.48 431.26,245.32 430.66,245.17 430.06,245.01 429.46,244.85 428.86,244.68 428.26,244.52 427.66,244.35 427.07,244.18 426.47,244.01 425.87,243.83 425.27,243.65 424.67,243.47 424.07,243.29 423.47,243.10 422.87,242.91 422.27,242.72 421.67,242.53 421.07,242.33 420.47,242.13 419.88,241.92 419.28,241.72 418.68,241.51 418.08,241.29 417.48,241.08 416.92,240.87 416.88,240.87 416.28,240.88 415.68,240.89 415.08,240.91 414.48,240.93 413.88,240.97 413.28,241.00 412.69,241.04 412.09,241.09 411.49,241.14 410.89,241.20 410.29,241.26 409.69,241.33 409.09,241.40 408.49,241.48 407.89,241.56 407.29,241.64 406.69,241.73 406.09,241.82 405.50,241.92 404.90,242.02 404.30,242.12 403.70,242.23 403.10,242.34 402.50,242.45 401.90,242.57 401.30,242.68 400.70,242.80 400.10,242.93 399.50,243.05 398.90,243.18 398.31,243.31 397.71,243.44 397.11,243.57 396.51,243.70 395.91,243.84 395.31,243.97 394.71,244.11 394.11,244.25 393.51,244.38 392.91,244.52 392.31,244.66 391.71,244.80 391.12,244.94 390.52,245.08 389.92,245.22 389.32,245.36 388.72,245.50 388.12,245.64 387.52,245.77 386.92,245.91 386.32,246.04 385.72,246.18 385.12,246.31 384.52,246.44 383.93,246.57 383.33,246.70 382.73,246.82 382.13,246.95 381.53,247.07 380.93,247.18 380.33,247.30 379.73,247.41 379.13,247.52 378.53,247.63 377.93,247.73 377.33,247.83 376.74,247.93 376.14,248.02 375.54,248.11 374.94,248.20 374.34,248.28 373.74,248.36 373.14,248.43 372.54,248.50 371.94,248.56 371.34,248.62 370.74,248.67 370.14,248.72 369.55,248.77 368.95,248.80 368.35,248.84 367.75,248.86 367.15,248.88 366.55,248.90" fill="#b9cde5"/>
<line x1="366.25" y1="240.87" x2="546.0" y2="240.87" stroke="#c4c4c4" stroke-width="0.8" opacity="0.8"/>
<rect x="366.25" y="159.4" width="179.75" height="122.6" fill="none" stroke="#cbcbcb" stroke-width="0.8"/>
<polyline points="366.55,224.87 367.15,225.19 367.75,225.51 368.35,225.82 368.95,226.13 369.55,226.43 370.14,226.72 370.74,227.01 371.34,227.29 371.94,227.56 372.54,227.83 373.14,228.09 373.74,228.35 374.34,228.61 374.94,228.85 375.54,229.10 376.14,229.34 376.74,229.57 377.33,229.80 377.93,230.02 378.53,230.24 379.13,230.46 379.73,230.67 380.33,230.88 380.93,231.08 381.53,231.29 382.13,231.48 382.73,231.68 383.33,231.87 383.93,232.05 384.52,232.24 385.12,232.42 385.72,232.59 386.32,232.77 386.92,232.94 387.52,233.11 388.12,233.28 388.72,233.44 389.32,233.60 389.92,233.77 390.52,233.92 391.12,234.08 391.71,234.24 392.31,234.39 392.91,234.54 393.51,234.69 394.11,234.84 394.71,234.99 395.31,235.14 395.91,235.29 396.51,235.43 397.11,235.58 397.71,235.72 398.31,235.87 398.90,236.01 399.50,236.16 400.10,236.30 400.70,236.45 401.30,236.59 401.90,236.74 402.50,236.88 403.10,237.03 403.70,237.18 404.30,237.33 404.90,237.48 405.50,237.63 406.09,237.78 406.69,237.93 407.29,238.08 407.89,238.24 408.49,238.40 409.09,238.56 409.69,238.72 410.29,238.88 410.89,239.05 411.49,239.22 412.09,239.39 412.69,239.56 413.28,239.74 413.88,239.92 414.48,240.10 415.08,240.28 415.68,240.47 416.28,240.66 416.88,240.86 416.92,240.87 417.48,240.98 418.08,241.10 418.68,241.21 419.28,241.32 419.88,241.43 420.47,241.54 421.07,241.65 421.67,241.76 422.27,241.87 422.87,241.97 423.47,242.07 424.07,242.17 424.67,242.27 425.27,242.37 425.87,242.47 426.47,242.57 427.07,242.66 427.66,242.76 428.26,242.85 428.86,242.94 429.46,243.03 430.06,243.12 430.66,243.21 431.26,243.29 431.86,243.38 432.46,243.46 433.06,243.55 433.66,243.63 434.26,243.71 434.85,243.79 435.45,243.87 436.05,243.95 436.65,244.02 437.25,244.10 437.85,244.17 438.45,244.25 439.05,244.32 439.65,244.39 440.25,244.47 440.85,244.54 441.45,244.61 442.04,244.67 442.64,244.74 443.24,244.81 443.84,244.88 444.44,244.94 445.04,245.01 445.64,245.07 446.24,245.13 446.84,245.20 447.44,245.26 448.04,245.32 448.64,245.38 449.23,245.44 449.83,245.50 450.43,245.56 451.03,245.62 451.63,245.67 452.23,245.73 452.83,245.79 453.43,245.84 454.03,245.90 454.63,245.95 455.23,246.00 455.83,246.06 456.42,246.11 457.02,246.16 457.62,246.21 458.22,246.26 458.82,246.31 459.42,246.37 460.02,246.41 460.62,246.46 461.22,246.51 461.82,246.56 462.42,246.61 463.02,246.66 463.61,246.70 464.21,246.75 464.81,246.80 465.41,246.84 466.01,246.89 466.61,246.94 467.21,246.98 467.81,247.03 468.41,247.07 469.01,247.11 469.61,247.16 470.21,247.20 470.80,247.25 471.40,247.29 472.00,247.33 472.60,247.37 473.20,247.42 473.80,247.46 474.40,247.50 475.00,247.54 475.60,247.59 476.20,247.63 476.80,247.67 477.40,247.71 477.99,247.75 478.59,247.79 479.19,247.83 479.79,247.87 480.39,247.91 480.99,247.95 481.59,247.99 482.19,248.03 482.79,248.07 483.39,248.11 483.99,248.15 484.59,248.19 485.18,248.23 485.78,248.27 486.38,248.31 486.98,248.35 487.58,248.39 488.18,248.43 488.78,248.47 489.38,248.51 489.98,248.55 490.58,248.58 491.18,248.62 491.78,248.66 492.37,248.70 492.97,248.74 493.57,248.78 494.17,248.82 494.77,248.86 495.37,248.90 495.97,248.94 496.57,248.97 497.17,249.01 497.77,249.05 498.37,249.09 498.97,249.13 499.56,249.17 500.16,249.21 500.76,249.25 501.36,249.29 501.96,249.33 502.56,249.37 503.16,249.41 503.76,249.45 504.36,249.49 504.96,249.53 505.56,249.57 506.16,249.60 506.75,249.64 507.35,249.68 507.95,249.72 508.55,249.76 509.15,249.80 509.75,249.85 510.35,249.89 510.95,249.93 511.55,249.97 512.15,250.01 512.75,250.05 513.35,250.09 513.94,250.13 514.54,250.17 515.14,250.21 515.74,250.25 516.34,250.29 516.94,250.33 517.54,250.38 518.14,250.42 518.74,250.46 519.34,250.50 519.94,250.54 520.54,250.58 521.13,250.62 521.73,250.67 522.33,250.71 522.93,250.75 523.53,250.79 524.13,250.83 524.73,250.88 525.33,250.92 525.93,250.96 526.53,251.00 527.13,251.05 527.73,251.09 528.32,251.13 528.92,251.17 529.52,251.22 530.12,251.26 530.72,251.30 531.32,251.34 531.92,251.39 532.52,251.43 533.12,251.47 533.72,251.52 534.32,251.56 534.92,251.60 535.51,251.65 536.11,251.69 536.71,251.73 537.31,251.77 537.91,251.82 538.51,251.86 539.11,251.90 539.71,251.95 540.31,251.99 540.91,252.03 541.51,252.07 542.11,252.12 542.70,252.16 543.30,252.20 543.90,252.25 544.50,252.29 545.10,252.33 545.70,252.37" fill="none" stroke="#4766a6" stroke-width="0.9"/>
<line x1="416.70" y1="240.87" x2="416.70" y2="249.50" stroke="#e0303a" stroke-width="0.9"/>
<polygon points="415.60,249.00 417.80,249.00 416.70,252.00" fill="#e0303a"/>
<line x1="364.55" y1="281.00" x2="366.25" y2="281.00" stroke="#aaa" stroke-width="0.8"/>
<text x="363.00" y="282.92" text-anchor="end" font-family="'Liberation Sans',sans-serif" font-weight="bold" font-size="4.35" fill="#1a1a1a">0.0</text>
<line x1="364.55" y1="260.94" x2="366.25" y2="260.94" stroke="#aaa" stroke-width="0.8"/>
<text x="363.00" y="262.85" text-anchor="end" font-family="'Liberation Sans',sans-serif" font-weight="bold" font-size="4.35" fill="#1a1a1a">0.5</text>
<line x1="364.55" y1="240.87" x2="366.25" y2="240.87" stroke="#aaa" stroke-width="0.8"/>
<text x="363.00" y="242.79" text-anchor="end" font-family="'Liberation Sans',sans-serif" font-weight="bold" font-size="4.35" fill="#1a1a1a">1.0</text>
<line x1="364.55" y1="220.81" x2="366.25" y2="220.81" stroke="#aaa" stroke-width="0.8"/>
<text x="363.00" y="222.72" text-anchor="end" font-family="'Liberation Sans',sans-serif" font-weight="bold" font-size="4.35" fill="#1a1a1a">1.5</text>
<line x1="364.55" y1="200.74" x2="366.25" y2="200.74" stroke="#aaa" stroke-width="0.8"/>
<text x="363.00" y="202.66" text-anchor="end" font-family="'Liberation Sans',sans-serif" font-weight="bold" font-size="4.35" fill="#1a1a1a">2.0</text>
<line x1="364.55" y1="180.68" x2="366.25" y2="180.68" stroke="#aaa" stroke-width="0.8"/>
<text x="363.00" y="182.59" text-anchor="end" font-family="'Liberation Sans',sans-serif" font-weight="bold" font-size="4.35" fill="#1a1a1a">2.5</text>
<line x1="364.55" y1="160.61" x2="366.25" y2="160.61" stroke="#aaa" stroke-width="0.8"/>
<text x="363.00" y="162.53" text-anchor="end" font-family="'Liberation Sans',sans-serif" font-weight="bold" font-size="4.35" fill="#1a1a1a">3.0</text>
<line x1="366.60" y1="282.0" x2="366.60" y2="283.70" stroke="#aaa" stroke-width="0.8"/>
<text x="366.60" y="288.80" text-anchor="middle" font-family="'Liberation Sans',sans-serif" font-weight="bold" font-size="4.35" fill="#1a1a1a">1</text>
<line x1="392.10" y1="282.0" x2="392.10" y2="283.70" stroke="#aaa" stroke-width="0.8"/>
<text x="392.10" y="288.80" text-anchor="middle" font-family="'Liberation Sans',sans-serif" font-weight="bold" font-size="4.35" fill="#1a1a1a">4</text>
<line x1="417.60" y1="282.0" x2="417.60" y2="283.70" stroke="#aaa" stroke-width="0.8"/>
<text x="417.60" y="288.80" text-anchor="middle" font-family="'Liberation Sans',sans-serif" font-weight="bold" font-size="4.35" fill="#1a1a1a">7</text>
<line x1="443.10" y1="282.0" x2="443.10" y2="283.70" stroke="#aaa" stroke-width="0.8"/>
<text x="443.10" y="288.80" text-anchor="middle" font-family="'Liberation Sans',sans-serif" font-weight="bold" font-size="4.35" fill="#1a1a1a">10</text>
<line x1="468.60" y1="282.0" x2="468.60" y2="283.70" stroke="#aaa" stroke-width="0.8"/>
<text x="468.60" y="288.80" text-anchor="middle" font-family="'Liberation Sans',sans-serif" font-weight="bold" font-size="4.35" fill="#1a1a1a">13</text>
<line x1="494.10" y1="282.0" x2="494.10" y2="283.70" stroke="#aaa" stroke-width="0.8"/>
<text x="494.10" y="288.80" text-anchor="middle" font-family="'Liberation Sans',sans-serif" font-weight="bold" font-size="4.35" fill="#1a1a1a">16</text>
<line x1="519.60" y1="282.0" x2="519.60" y2="283.70" stroke="#aaa" stroke-width="0.8"/>
<text x="519.60" y="288.80" text-anchor="middle" font-family="'Liberation Sans',sans-serif" font-weight="bold" font-size="4.35" fill="#1a1a1a">19</text>
<line x1="545.10" y1="282.0" x2="545.10" y2="283.70" stroke="#aaa" stroke-width="0.8"/>
<text x="545.10" y="288.80" text-anchor="middle" font-family="'Liberation Sans',sans-serif" font-weight="bold" font-size="4.35" fill="#1a1a1a">22</text>
<text x="454.40" y="295.00" text-anchor="middle" font-family="'DejaVu Serif Condensed','DejaVu Serif','Liberation Serif',serif" font-weight="bold" font-size="4.85" fill="#1a1a1a" stroke="#1a1a1a" stroke-width="0.3">Stool frequency (Bowel movements/week)</text>
<text transform="translate(353.20,220.40) rotate(-90)" x="0" y="0" text-anchor="middle" font-family="'DejaVu Serif Condensed','DejaVu Serif','Liberation Serif',serif" font-weight="bold" font-size="4.85" fill="#1a1a1a" stroke="#1a1a1a" stroke-width="0.3">HR of CVD mortality</text>
<text x="416.40" y="258.80" text-anchor="middle" font-family="'DejaVu Serif Condensed','DejaVu Serif','Liberation Serif',serif" font-weight="bold" font-size="5.05" fill="#1a1a1a" stroke="#1a1a1a" stroke-width="0.3">7 times/week</text>
<text x="346.0" y="164.4" font-family="'DejaVu Serif Condensed','DejaVu Serif','Liberation Serif',serif" font-weight="bold" font-size="7.0" fill="#111" stroke="#111" stroke-width="0.3">C.</text>
<rect x="34.5" y="225.0" width="272.4" height="70.60000000000002" fill="none" stroke="#8a8a8a" stroke-width="1.2"/>
<polyline points="35.00,291.33 35.68,291.11 36.36,290.88 37.04,290.66 37.72,290.43 38.40,290.21 39.08,289.99 39.76,289.76 40.44,289.54 41.12,289.32 41.80,289.09 42.48,288.87 43.16,288.65 43.84,288.43 44.52,288.20 45.20,287.98 45.88,287.76 46.56,287.53 47.24,287.31 47.92,287.09 48.60,286.87 49.28,286.65 49.96,286.44 50.64,286.22 51.32,286.00 52.01,285.77 52.69,285.53 53.37,285.30 54.05,285.07 54.73,284.84 55.41,284.63 56.09,284.43 56.77,284.26 57.45,284.10 58.13,283.98 58.81,283.86 59.49,283.75 60.17,283.63 60.85,283.53 61.53,283.43 62.21,283.34 62.89,283.26 63.57,283.19 64.25,283.14 64.93,283.11 65.61,283.10 66.29,283.11 66.97,283.15 67.65,283.20 68.33,283.27 69.01,283.36 69.69,283.45 70.37,283.55 71.05,283.66 71.73,283.76 72.41,283.87 73.09,283.97 73.77,284.07 74.45,284.18 75.13,284.31 75.81,284.44 76.49,284.58 77.17,284.72 77.85,284.86 78.53,284.98 79.21,285.10 79.89,285.19 80.57,285.27 81.25,285.33 81.93,285.38 82.61,285.43 83.29,285.47 83.97,285.49 84.65,285.50 85.33,285.40 86.02,285.20 86.70,284.89 87.38,284.51 88.06,284.05 88.74,283.55 89.42,283.01 90.10,282.43 90.78,281.60 91.46,280.54 92.14,279.35 92.82,278.09 93.50,276.84 94.18,275.54 94.86,274.17 95.54,272.71 96.22,271.16 96.90,269.52 97.58,267.76 98.26,265.80 98.94,263.67 99.62,261.43 100.30,259.12 100.98,256.80 101.66,254.53 102.34,252.34 103.02,250.18 103.70,248.01 104.38,245.80 105.06,243.54 105.74,241.09 106.42,238.54 107.10,236.19 107.78,234.23 108.46,232.40 109.14,230.79 109.82,229.61 110.50,228.89 111.18,228.25 111.86,227.71 112.54,227.32 113.22,227.12 113.90,227.23 114.58,227.93 115.26,228.91 115.94,229.92 116.62,231.12 117.30,232.53 117.98,234.12 118.66,235.96 119.34,238.15 120.03,240.52 120.71,242.85 121.39,245.18 122.07,247.55 122.75,249.97 123.43,252.45 124.11,255.04 124.79,257.67 125.47,260.27 126.15,262.74 126.83,265.09 127.51,267.42 128.19,269.70 128.87,271.89 129.55,273.96 130.23,275.88 130.91,277.65 131.59,279.36 132.27,281.00 132.95,282.54 133.63,283.95 134.31,285.21 134.99,286.29 135.67,287.29 136.35,288.24 137.03,289.11 137.71,289.88 138.39,290.52 139.07,291.02 139.75,291.40 140.43,291.75 141.11,292.06 141.79,292.33 142.47,292.58 143.15,292.79 143.83,292.97 144.51,293.13 145.19,293.25 145.87,293.36 146.55,293.46 147.23,293.55 147.91,293.63 148.59,293.69 149.27,293.75 149.95,293.80 150.63,293.84 151.31,293.88 151.99,293.91 152.67,293.95 153.35,293.98 154.04,294.01 154.72,294.04 155.40,294.06 156.08,294.08 156.76,294.09 157.44,294.10 158.12,294.10 158.80,294.09 159.48,294.07 160.16,294.03 160.84,293.98 161.52,293.93 162.20,293.87 162.88,293.81 163.56,293.74 164.24,293.67 164.92,293.61 165.60,293.54 166.28,293.48 166.96,293.41 167.64,293.34 168.32,293.26 169.00,293.17 169.68,293.08 170.36,292.98 171.04,292.87 171.72,292.75 172.40,292.62 173.08,292.48 173.76,292.31 174.44,292.10 175.12,291.85 175.80,291.57 176.48,291.25 177.16,290.90 177.84,290.53 178.52,290.13 179.20,289.71 179.88,289.27 180.56,288.80 181.24,288.32 181.92,287.78 182.60,287.16 183.28,286.47 183.96,285.72 184.64,284.92 185.32,284.07 186.00,283.18 186.68,282.25 187.36,281.30 188.05,280.26 188.73,279.08 189.41,277.80 190.09,276.46 190.77,275.11 191.45,273.78 192.13,272.53 192.81,271.33 193.49,270.11 194.17,268.90 194.85,267.71 195.53,266.58 196.21,265.52 196.89,264.55 197.57,263.62 198.25,262.66 198.93,261.74 199.61,260.93 200.29,260.30 200.97,259.93 201.65,259.79 202.33,259.68 203.01,259.62 203.69,259.61 204.37,259.87 205.05,260.38 205.73,261.03 206.41,261.72 207.09,262.39 207.77,263.14 208.45,263.97 209.13,264.88 209.81,265.85 210.49,266.86 211.17,267.89 211.85,268.96 212.53,270.11 213.21,271.33 213.89,272.61 214.57,273.91 215.25,275.22 215.93,276.52 216.61,277.79 217.29,279.12 217.97,280.48 218.65,281.84 219.33,283.17 220.01,284.40 220.69,285.51 221.37,286.48 222.06,287.40 222.74,288.29 223.42,289.12 224.10,289.88 224.78,290.53 225.46,291.04 226.14,291.42 226.82,291.73 227.50,292.00 228.18,292.25 228.86,292.48 229.54,292.68 230.22,292.85 230.90,293.01 231.58,293.16 232.26,293.29 232.94,293.42 233.62,293.55 234.30,293.67 234.98,293.79 235.66,293.90 236.34,294.01 237.02,294.10 237.70,294.18 238.38,294.24 239.06,294.28 239.74,294.30 240.42,294.30 241.10,294.30 241.78,294.30 242.46,294.30 243.14,294.30 243.82,294.30 244.50,294.30 245.18,294.30 245.86,294.30 246.54,294.30 247.22,294.30 247.90,294.30 248.58,294.30 249.26,294.30 249.94,294.30 250.62,294.30 251.30,294.30 251.98,294.30 252.66,294.30 253.34,294.30 254.02,294.30 254.70,294.30 255.38,294.30 256.07,294.30 256.75,294.30 257.43,294.30 258.11,294.30 258.79,294.30 259.47,294.30 260.15,294.29 260.83,294.28 261.51,294.26 262.19,294.23 262.87,294.19 263.55,294.16 264.23,294.11 264.91,294.06 265.59,294.01 266.27,293.96 266.95,293.90 267.63,293.83 268.31,293.77 268.99,293.67 269.67,293.54 270.35,293.38 271.03,293.20 271.71,293.01 272.39,292.81 273.07,292.60 273.75,292.39 274.43,292.19 275.11,291.98 275.79,291.76 276.47,291.53 277.15,291.29 277.83,291.05 278.51,290.80 279.19,290.55 279.87,290.30 280.55,290.05 281.23,289.80 281.91,289.53 282.59,289.24 283.27,288.95 283.95,288.67 284.63,288.40 285.31,288.15 285.99,287.94 286.67,287.78 287.35,287.66 288.03,287.56 288.71,287.47 289.39,287.38 290.08,287.31 290.76,287.25 291.44,287.22 292.12,287.20 292.80,287.22 293.48,287.28 294.16,287.38 294.84,287.52 295.52,287.67 296.20,287.83 296.88,288.00 297.56,288.17 298.24,288.37 298.92,288.61 299.60,288.88 300.28,289.16 300.96,289.44 301.64,289.72 302.32,289.97 303.00,290.21 303.68,290.43 304.36,290.66 305.04,290.88 305.72,291.09 306.40,291.30" fill="none" stroke="#333" stroke-width="0.95"/>
<line x1="32.5" y1="294.50" x2="34.5" y2="294.50" stroke="#444" stroke-width="0.6"/>
<text x="32.2" y="295.85" text-anchor="end" font-family="'Liberation Sans',Arial,sans-serif" font-weight="bold" font-size="3.7" fill="#222">0.00</text>
<line x1="32.5" y1="280.78" x2="34.5" y2="280.78" stroke="#444" stroke-width="0.6"/>
<text x="32.2" y="282.13" text-anchor="end" font-family="'Liberation Sans',Arial,sans-serif" font-weight="bold" font-size="3.7" fill="#222">0.05</text>
<line x1="32.5" y1="267.06" x2="34.5" y2="267.06" stroke="#444" stroke-width="0.6"/>
<text x="32.2" y="268.41" text-anchor="end" font-family="'Liberation Sans',Arial,sans-serif" font-weight="bold" font-size="3.7" fill="#222">0.10</text>
<line x1="32.5" y1="253.34" x2="34.5" y2="253.34" stroke="#444" stroke-width="0.6"/>
<text x="32.2" y="254.69" text-anchor="end" font-family="'Liberation Sans',Arial,sans-serif" font-weight="bold" font-size="3.7" fill="#222">0.15</text>
<line x1="32.5" y1="239.62" x2="34.5" y2="239.62" stroke="#444" stroke-width="0.6"/>
<text x="32.2" y="240.97" text-anchor="end" font-family="'Liberation Sans',Arial,sans-serif" font-weight="bold" font-size="3.7" fill="#222">0.20</text>
<line x1="32.5" y1="225.90" x2="34.5" y2="225.90" stroke="#444" stroke-width="0.6"/>
<text x="32.2" y="227.25" text-anchor="end" font-family="'Liberation Sans',Arial,sans-serif" font-weight="bold" font-size="3.7" fill="#222">0.25</text>
<line x1="35.40" y1="295.6" x2="35.40" y2="297.40000000000003" stroke="#444" stroke-width="0.6"/>
<text x="35.40" y="301.5" text-anchor="middle" font-family="'Liberation Sans',Arial,sans-serif" font-weight="bold" font-size="3.7" fill="#222">1</text>
<line x1="74.06" y1="295.6" x2="74.06" y2="297.40000000000003" stroke="#444" stroke-width="0.6"/>
<text x="74.06" y="301.5" text-anchor="middle" font-family="'Liberation Sans',Arial,sans-serif" font-weight="bold" font-size="3.7" fill="#222">4</text>
<line x1="112.72" y1="295.6" x2="112.72" y2="297.40000000000003" stroke="#444" stroke-width="0.6"/>
<text x="112.72" y="301.5" text-anchor="middle" font-family="'Liberation Sans',Arial,sans-serif" font-weight="bold" font-size="3.7" fill="#222">7</text>
<line x1="151.37" y1="295.6" x2="151.37" y2="297.40000000000003" stroke="#444" stroke-width="0.6"/>
<text x="151.37" y="301.5" text-anchor="middle" font-family="'Liberation Sans',Arial,sans-serif" font-weight="bold" font-size="3.7" fill="#222">10</text>
<line x1="190.03" y1="295.6" x2="190.03" y2="297.40000000000003" stroke="#444" stroke-width="0.6"/>
<text x="190.03" y="301.5" text-anchor="middle" font-family="'Liberation Sans',Arial,sans-serif" font-weight="bold" font-size="3.7" fill="#222">13</text>
<line x1="228.69" y1="295.6" x2="228.69" y2="297.40000000000003" stroke="#444" stroke-width="0.6"/>
<text x="228.69" y="301.5" text-anchor="middle" font-family="'Liberation Sans',Arial,sans-serif" font-weight="bold" font-size="3.7" fill="#222">16</text>
<line x1="267.35" y1="295.6" x2="267.35" y2="297.40000000000003" stroke="#444" stroke-width="0.6"/>
<text x="267.35" y="301.5" text-anchor="middle" font-family="'Liberation Sans',Arial,sans-serif" font-weight="bold" font-size="3.7" fill="#222">19</text>
<line x1="306.01" y1="295.6" x2="306.01" y2="297.40000000000003" stroke="#444" stroke-width="0.6"/>
<text x="306.01" y="301.5" text-anchor="middle" font-family="'Liberation Sans',Arial,sans-serif" font-weight="bold" font-size="3.7" fill="#222">22</text>
<text x="170.85" y="308.3" text-anchor="middle" font-family="'Liberation Sans',Arial,sans-serif" font-weight="bold" font-size="4.5" fill="#1a1a1a" stroke="#1a1a1a" stroke-width="0.1">Stool frequency (Bowel movements/week)</text>
<text transform="translate(20.8,260.1) rotate(-90)" text-anchor="middle" font-family="'Liberation Sans',Arial,sans-serif" font-weight="bold" font-size="4.4" fill="#1a1a1a" stroke="#1a1a1a" stroke-width="0.1">Stool frequency density</text>
</svg></body></html>
